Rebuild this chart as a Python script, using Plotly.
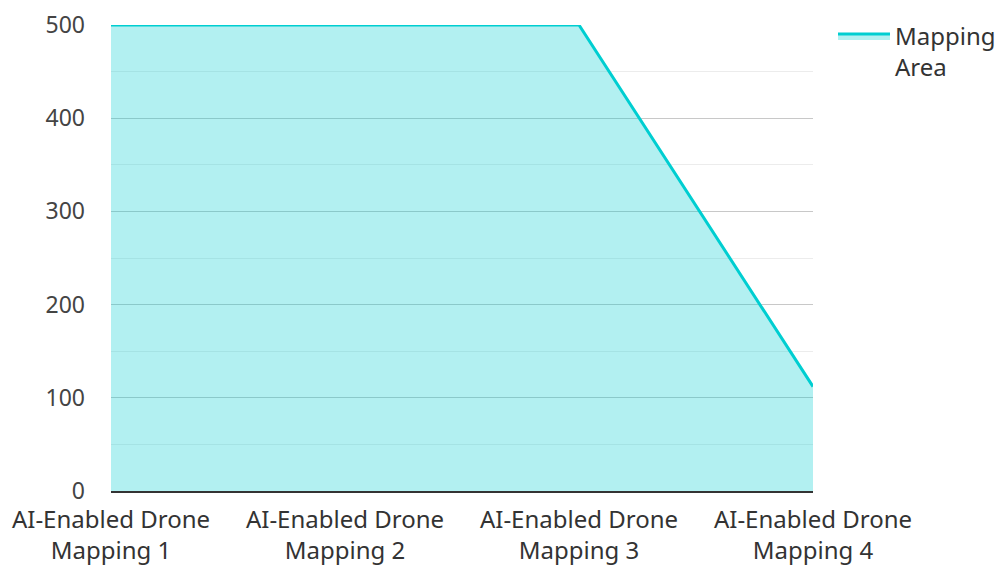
import plotly.graph_objects as go

categories = ["AI-Enabled Drone<br>Mapping 1", "AI-Enabled Drone<br>Mapping 2",
              "AI-Enabled Drone<br>Mapping 3", "AI-Enabled Drone<br>Mapping 4"]
mapping_area = [500, 500, 500, 112]
y_ticks = [0, 100, 200, 300, 400, 500]

fig = go.Figure()
fig.add_trace(go.Scatter(
    x=categories, y=mapping_area, mode="lines", name="Mapping<br>Area",
    line=dict(color="#00CED1", width=3), fill="tozeroy",
    fillcolor="rgba(0,206,209,0.3)",
))
fig.update_layout(
    width=995, height=559,
    margin=dict(l=103, r=190, t=17, b=76, autoexpand=False),
    paper_bgcolor="white", plot_bgcolor="white",
    font=dict(family="Noto Sans", size=22, color="#444"),
    showlegend=True,
    legend=dict(x=1.0285, y=1.024, xanchor="left", yanchor="top", valign="top",
                font=dict(size=24, color="#333"), itemwidth=52,
                tracegroupgap=0),
    xaxis=dict(range=[0, 3], showgrid=False, showline=True, linecolor="#333",
               linewidth=2, ticks="", tickfont=dict(size=24, color="#333"),
               zeroline=False, automargin=False, ticklabelstandoff=6),
    yaxis=dict(range=[0, 500], tickvals=y_ticks, showgrid=True,
               gridcolor="#c8c8c8", gridwidth=1, zeroline=False, automargin=False,
               tickfont=dict(size=23, color="#444"), ticklabelstandoff=25,
               minor=dict(dtick=50, showgrid=True, gridcolor="#ececec", gridwidth=1)),
)
fig.write_html("out.html")
